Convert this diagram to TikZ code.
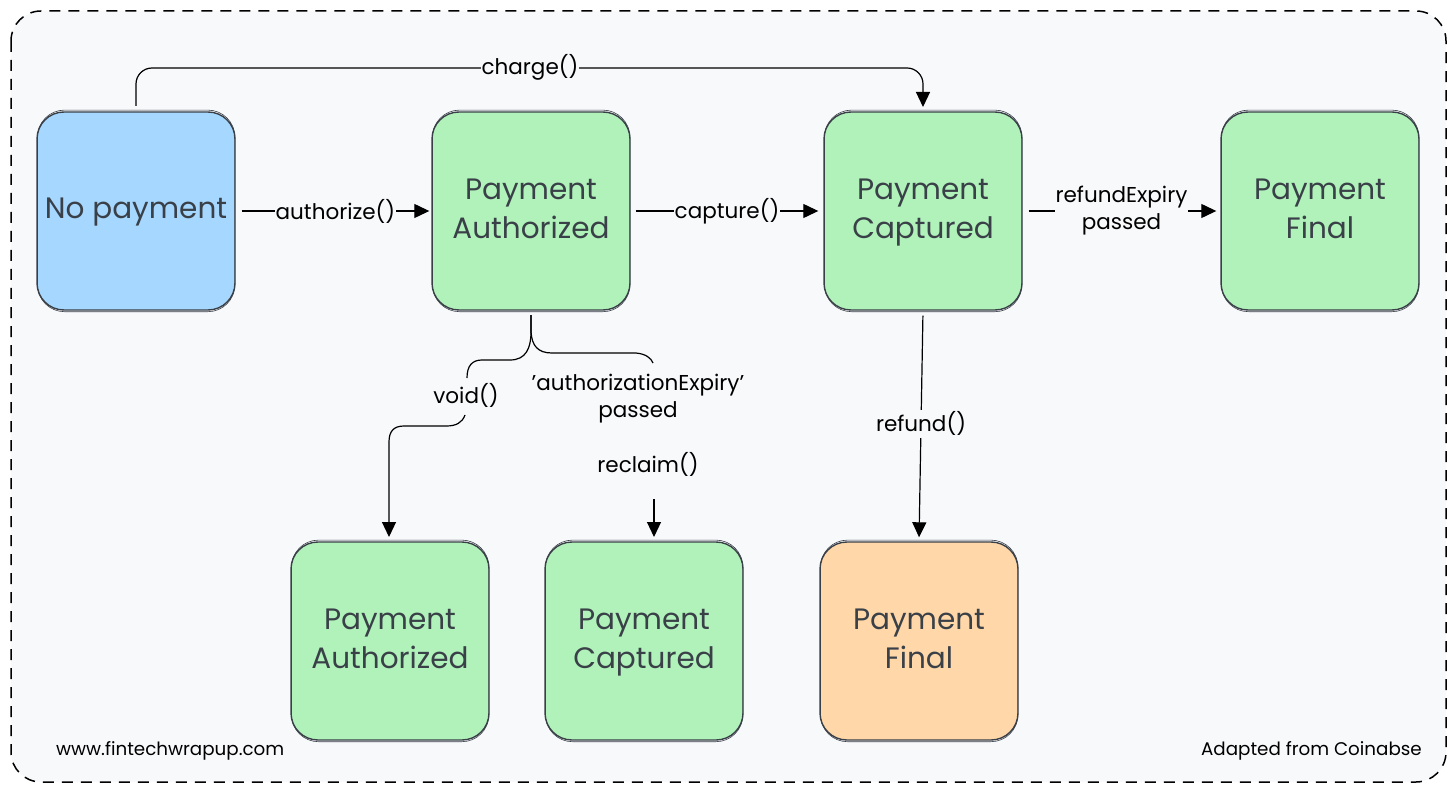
\documentclass[tikz,border=0pt]{standalone}
\usepackage{fontspec}
\setmainfont{Poppins}
\usetikzlibrary{arrows.meta}
\definecolor{bgc}{HTML}{F8F9FB}
\definecolor{ink}{HTML}{3A4048}
\definecolor{gr}{HTML}{B0F2BA}
\definecolor{bl}{HTML}{A5D7FF}
\definecolor{og}{HTML}{FFD7A8}
\tikzset{
  x=1pt,y=-1pt,
  state/.style={minimum width=198pt,minimum height=198pt,rounded corners=27pt,draw=ink,line width=1.4pt,align=center,text=ink,font=\fontsize{29.5}{39.5}\selectfont,inner sep=0pt},
  sketch/.style={draw=ink,line width=0.6pt,rounded corners=27pt},
  lab/.style={fill=bgc,font=\fontsize{21.5}{27}\selectfont,align=center,inner xsep=0.5pt,inner ysep=2pt,text=black},
  link/.style={draw=black,line width=1.2pt},
  arrow/.style={link,-{Triangle[length=15pt,width=14pt]}},
  wm/.style={font=\fontsize{18.3}{22}\selectfont,text=black,inner sep=0pt}
}
\begin{document}
\begin{tikzpicture}
\useasboundingbox (0,0) rectangle (1456,794);
\draw[fill=bgc,draw=black,line width=1.5pt,dash pattern=on 11pt off 8pt,rounded corners=30pt] (11,11) rectangle (1446,782);

\node[state,fill=bl] (np) at (136,211) {\strut No payment};
\node[state,fill=gr] (pa) at (531,211) {\strut Payment\\\strut Authorized};
\node[state,fill=gr] (pc) at (923,211) {\strut Payment\\\strut Captured};
\node[state,fill=gr] (pf) at (1320,211) {\strut Payment\\\strut Final};
\node[state,fill=gr] (ba) at (390,641) {\strut Payment\\\strut Authorized};
\node[state,fill=gr] (bc) at (644,641) {\strut Payment\\\strut Captured};
\node[state,fill=og] (bf) at (919,641) {\strut Payment\\\strut Final};

\foreach \n in {np,pa,pc,pf,ba,bc,bf}{
  \draw[sketch] ([shift={(1.2,1)}]\n.south west) rectangle ([shift={(-0.8,-1.2)}]\n.north east);
}

% charge
\coordinate (chA) at (136,106);
\coordinate (chB) at (923,107);
\draw[arrow,rounded corners=16pt] (chA) -- (136,68) -- (923,68) -- (chB);
\node[lab] (chg) at (530,67) {charge()};

% straight links
\draw[arrow,shorten <=6pt,shorten >=2pt] (np.east) -- (pa.west) node[lab,pos=0.51] (au) {authorize()};
\draw[arrow,shorten <=5pt,shorten >=5pt] (pa.east) -- (pc.west) node[lab,pos=0.5] (ca) {capture()};
\draw[arrow,shorten <=6pt,shorten >=4pt] (pc.east) -- (pf.west) node[lab,pos=0.5] (re) {refundExpiry\\passed};
\draw[arrow,shorten <=5pt,shorten >=4pt] (pc.south) -- (bf.north) node[lab,pos=0.49] (rf) {refund()};

% fork from Payment Authorized
\coordinate (fork) at (531,315);
\coordinate (vd) at (467,378);
\coordinate (ex) at (653,363);
\draw[link] (fork) -- (531,332) .. controls (531,348) and (526,360) .. (510,360) -- (482,360) .. controls (472,360) and (467,366) .. (vd);
\draw[link] (fork) -- (531,332) .. controls (532,346) and (538,353) .. (552,353) -- (636,353) .. controls (646,354) and (651,358) .. (ex);
\node[lab] (vo) at (466,395) {void()};
\node[lab] (ae) at (638,399) {'authorizationExpiry'\\passed};
\node[lab] (rc) at (648,464) {reclaim()};

\coordinate (vdB) at (465,415);
\coordinate (vdT) at (389,537);
\draw[arrow] (vdB) .. controls (462,423) and (456,426) .. (446,426) -- (404,426) .. controls (394,426) and (389,431) .. (389,442) -- (vdT);
\coordinate (rcEnd) at (654,499);
\coordinate (rcTip) at (654,537);
\draw[arrow] (rcEnd) -- (rcTip);

\node[wm,anchor=west] (site) at (56,751) {www.fintechwrapup.com};
\node[wm,anchor=east] (adp) at (1422,751) {Adapted from Coinabse};
\end{tikzpicture}
\end{document}
